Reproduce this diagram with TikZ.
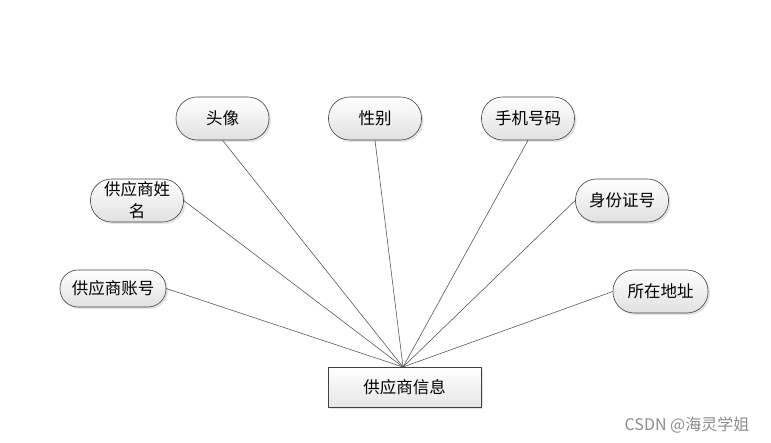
\documentclass[tikz,border=0pt]{standalone}
\usepackage{fontspec}
\newfontfamily\cjk{Noto Sans CJK SC}
\usetikzlibrary{shadows}
\begin{document}
\begin{tikzpicture}[x=1pt,y=-1pt,
  attr/.style={draw=black!75, line width=0.6pt, rounded corners=21pt,
    minimum width=93pt, minimum height=43pt, inner sep=0pt,
    top color=white, bottom color=black!12,
    drop shadow={shadow xshift=2pt, shadow yshift=-2pt, fill=black!18, opacity=0.6},
    font=\cjk\fontsize{16.5}{22}\selectfont, align=center},
  ent/.style={draw=black!75, line width=0.6pt,
    minimum width=153pt, minimum height=40pt, inner sep=0pt,
    top color=white, bottom color=black!10,
    drop shadow={shadow xshift=2pt, shadow yshift=-2pt, fill=black!18, opacity=0.6},
    font=\cjk\fontsize{16.5}{22}\selectfont},
  link/.style={draw=black!70, line width=0.55pt}]
\useasboundingbox (0,0) rectangle (771,443);
\node[attr] (tx) at (222.5,118.5) {头像};
\node[attr] (xb) at (375,118.5) {性别};
\node[attr] (sj) at (528,118.5) {手机号码};
\node[attr] (xm) at (137,200.5) {供应商姓\\名};
\node[attr] (sf) at (622,200.5) {身份证号};
\node[attr, minimum width=106pt, minimum height=37pt, rounded corners=18pt] (zh) at (113,288.5) {供应商账号};
\node[attr, minimum width=95pt] (dz) at (660.5,291.5) {所在地址};
\node[ent] (info) at (404.5,387) {供应商信息};
\coordinate (hub) at (403,367);
\draw[link] (tx.south) -- (hub);
\draw[link] (xb.south) -- (hub);
\draw[link] (sj.south) -- (hub);
\draw[link] (xm.east) -- (hub);
\draw[link] (sf.west) -- (hub);
\draw[link] (zh.east) -- (hub);
\draw[link] (dz.west) -- (hub);
\node[text=black!45, font=\cjk\fontsize{16}{18}\selectfont, anchor=center] (wm) at (687,425) {CSDN @海灵学姐};
\end{tikzpicture}
\end{document}
